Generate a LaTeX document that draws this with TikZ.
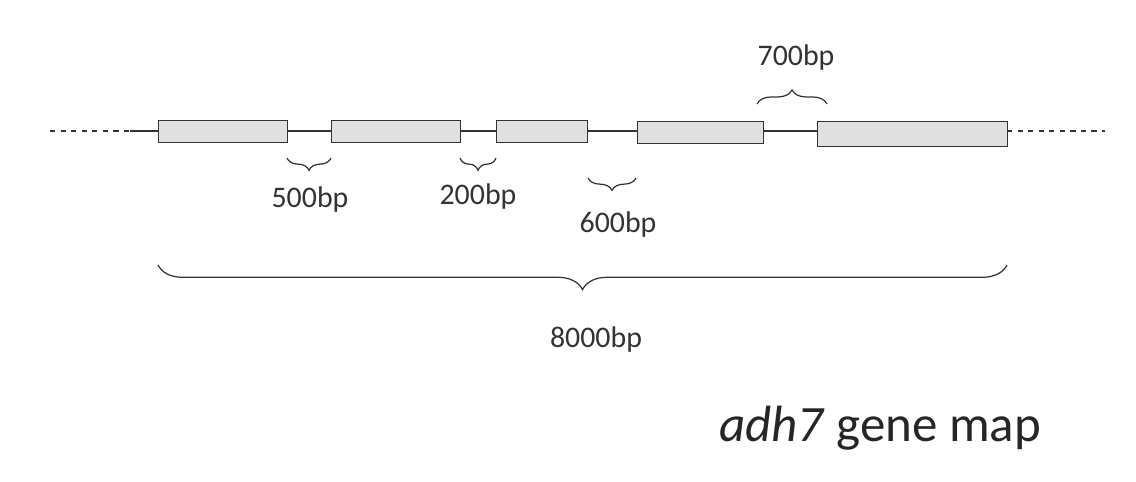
\documentclass[tikz,border=0pt]{standalone}
\usepackage{fontspec}
\setmainfont{Carlito}
\usetikzlibrary{decorations.pathreplacing}
\begin{document}
\begin{tikzpicture}[x=0.02cm,y=-0.02cm,
 exon/.style={draw=black!80,fill=black!12,line width=0.8pt,minimum height=0.44cm,inner sep=0,anchor=north west},
 br/.style={decorate,decoration={brace,amplitude=#1},line width=0.7pt,black!80},
 lbl/.style={font=\fontsize{17}{20}\selectfont,text=black!80}]
\useasboundingbox (0,0) rectangle (1136,482);
\coordinate (l0) at (50,131); \coordinate (l1) at (130,131);
\coordinate (r0) at (1007,131); \coordinate (r1) at (1105,131);
\draw[dashed,black!80,line width=0.7pt] (l0) -- (l1);
\draw[dashed,black!80,line width=0.7pt] (r0) -- (r1);
\draw[black!80,line width=0.7pt] (l1) -- (r0);
\node[exon,minimum width=2.58cm] (e1) at (158,120) {};
\node[exon,minimum width=2.58cm] (e2) at (331,120) {};
\node[exon,minimum width=1.82cm] (e3) at (496,120) {};
\node[exon,minimum width=2.52cm] (e4) at (637,121) {};
\node[exon,minimum width=3.8cm,minimum height=0.5cm] (e5) at (817,121) {};
\coordinate (a1) at (331,158); \coordinate (a2) at (287,158);
\draw[br=7pt] (a1) -- (a2);
\node[lbl] (t1) at (310,200) {500bp};
\coordinate (b1) at (496,158); \coordinate (b2) at (460,158);
\draw[br=7pt] (b1) -- (b2);
\node[lbl] (t2) at (478,197) {200bp};
\coordinate (c1) at (636,178); \coordinate (c2) at (588,178);
\draw[br=7pt] (c1) -- (c2);
\node[lbl] (t3) at (618,225) {600bp};
\coordinate (d1) at (757,104); \coordinate (d2) at (827,104);
\draw[br=8pt] (d1) -- (d2);
\node[lbl] (t4) at (796,58) {700bp};
\coordinate (f1) at (1007,265); \coordinate (f2) at (158,265);
\draw[br=14pt] (f1) -- (f2);
\node[lbl] (t5) at (596,340) {8000bp};
\node[font=\fontsize{29}{34}\selectfont,text=black!85] (title) at (880,428) {\textit{adh7} gene map};
\end{tikzpicture}
\end{document}
